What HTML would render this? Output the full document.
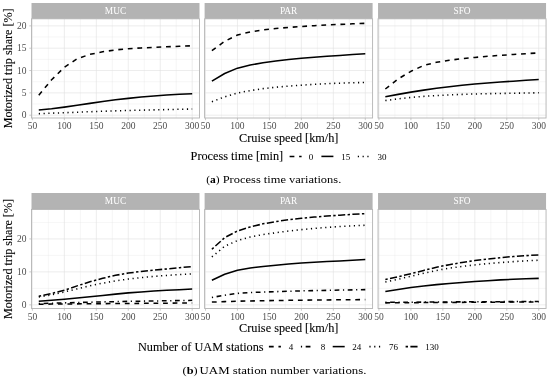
<!DOCTYPE html>
<html lang="en"><head><meta charset="utf-8"><title>Figure</title>
<style>html,body{margin:0;padding:0;background:#fff;}body{width:550px;height:379px;overflow:hidden;}svg text{font-family:"Liberation Serif",serif;}</style>
</head><body>
<svg width="550" height="379" viewBox="0 0 550 379" style="display:block">
<rect width="550" height="379" fill="#fff"/>
<rect x="31.50" y="3.00" width="168.00" height="15.80" fill="#b3b3b3"/>
<text x="115.50" y="14.40" font-size="9.4" fill="#fff" text-anchor="middle">MUC</text>
<path d="M31.50 104.03H199.50M31.50 81.70H199.50M31.50 59.36H199.50M31.50 37.03H199.50M48.38 18.80V118.00M80.34 18.80V118.00M112.30 18.80V118.00M144.26 18.80V118.00M176.22 18.80V118.00" stroke="#e2e2e2" stroke-width="0.3" fill="none"/>
<path d="M31.50 115.20H199.50M31.50 92.87H199.50M31.50 70.53H199.50M31.50 48.20H199.50M31.50 25.86H199.50M32.40 18.80V118.00M64.36 18.80V118.00M96.32 18.80V118.00M128.28 18.80V118.00M160.24 18.80V118.00M192.20 18.80V118.00" stroke="#e0e0e0" stroke-width="0.6" fill="none"/>
<polyline points="38.79,95.22 51.58,79.81 64.36,67.26 77.14,58.75 89.93,54.37 102.71,51.78 115.50,49.91 128.28,48.67 141.06,47.93 153.85,47.38 166.63,46.82 179.42,46.27 192.20,45.76" fill="none" stroke="#000" stroke-width="1.55" stroke-linejoin="round" stroke-dasharray="4.78 4.78"/>
<polyline points="38.79,109.96 51.58,108.70 64.36,107.14 77.14,105.34 89.93,103.38 102.71,101.54 115.50,99.85 128.28,98.36 141.06,97.07 153.85,95.96 166.63,95.06 179.42,94.30 192.20,93.70" fill="none" stroke="#000" stroke-width="1.55" stroke-linejoin="round"/>
<polyline points="38.79,113.68 51.58,113.18 64.36,112.74 77.14,112.20 89.93,111.71 102.71,111.27 115.50,110.86 128.28,110.50 141.06,110.18 153.85,109.88 166.63,109.59 179.42,109.30 192.20,109.02" fill="none" stroke="#000" stroke-width="1.55" stroke-linejoin="round" stroke-dasharray="1.195 3.585"/>
<rect x="31.50" y="18.80" width="168.00" height="99.20" fill="none" stroke="#b3b3b3" stroke-width="0.9"/>
<path d="M32.40 118.00v2.2M64.36 118.00v2.2M96.32 118.00v2.2M128.28 118.00v2.2M160.24 118.00v2.2M192.20 118.00v2.2M31.50 115.20h-2.2M31.50 92.87h-2.2M31.50 70.53h-2.2M31.50 48.20h-2.2M31.50 25.86h-2.2" stroke="#b3b3b3" stroke-width="0.7" fill="none"/>
<text x="32.40" y="129.00" font-size="9.5" fill="#4d4d4d" text-anchor="middle">50</text>
<text x="64.36" y="129.00" font-size="9.5" fill="#4d4d4d" text-anchor="middle">100</text>
<text x="96.32" y="129.00" font-size="9.5" fill="#4d4d4d" text-anchor="middle">150</text>
<text x="128.28" y="129.00" font-size="9.5" fill="#4d4d4d" text-anchor="middle">200</text>
<text x="160.24" y="129.00" font-size="9.5" fill="#4d4d4d" text-anchor="middle">250</text>
<text x="192.20" y="129.00" font-size="9.5" fill="#4d4d4d" text-anchor="middle">300</text>
<text x="26.60" y="118.40" font-size="9.5" fill="#4d4d4d" text-anchor="end">0</text>
<text x="26.60" y="96.07" font-size="9.5" fill="#4d4d4d" text-anchor="end">5</text>
<text x="26.60" y="73.73" font-size="9.5" fill="#4d4d4d" text-anchor="end">10</text>
<text x="26.60" y="51.40" font-size="9.5" fill="#4d4d4d" text-anchor="end">15</text>
<text x="26.60" y="29.06" font-size="9.5" fill="#4d4d4d" text-anchor="end">20</text>
<rect x="204.60" y="3.00" width="168.00" height="15.80" fill="#b3b3b3"/>
<text x="288.60" y="14.40" font-size="9.4" fill="#fff" text-anchor="middle">PAR</text>
<path d="M204.60 104.03H372.60M204.60 81.70H372.60M204.60 59.36H372.60M204.60 37.03H372.60M221.48 18.80V118.00M253.44 18.80V118.00M285.40 18.80V118.00M317.36 18.80V118.00M349.32 18.80V118.00" stroke="#e2e2e2" stroke-width="0.3" fill="none"/>
<path d="M204.60 115.20H372.60M204.60 92.87H372.60M204.60 70.53H372.60M204.60 48.20H372.60M204.60 25.86H372.60M205.50 18.80V118.00M237.46 18.80V118.00M269.42 18.80V118.00M301.38 18.80V118.00M333.34 18.80V118.00M365.30 18.80V118.00" stroke="#e0e0e0" stroke-width="0.6" fill="none"/>
<polyline points="211.89,50.69 224.68,41.28 237.46,35.01 250.24,31.87 263.03,29.93 275.81,28.53 288.60,27.42 301.38,26.50 314.16,25.70 326.95,25.02 339.73,24.40 352.52,23.85 365.30,23.36" fill="none" stroke="#000" stroke-width="1.55" stroke-linejoin="round" stroke-dasharray="4.78 4.78"/>
<polyline points="211.89,81.15 224.68,73.54 237.46,68.16 250.24,65.02 263.03,62.80 275.81,61.06 288.60,59.57 301.38,58.30 314.16,57.23 326.95,56.29 339.73,55.40 352.52,54.58 365.30,53.82" fill="none" stroke="#000" stroke-width="1.55" stroke-linejoin="round"/>
<polyline points="211.89,101.76 224.68,96.83 237.46,93.02 250.24,90.56 263.03,88.64 275.81,87.22 288.60,86.11 301.38,85.18 314.16,84.36 326.95,83.66 339.73,83.16 352.52,82.76 365.30,82.50" fill="none" stroke="#000" stroke-width="1.55" stroke-linejoin="round" stroke-dasharray="1.195 3.585"/>
<rect x="204.60" y="18.80" width="168.00" height="99.20" fill="none" stroke="#b3b3b3" stroke-width="0.9"/>
<path d="M205.50 118.00v2.2M237.46 118.00v2.2M269.42 118.00v2.2M301.38 118.00v2.2M333.34 118.00v2.2M365.30 118.00v2.2" stroke="#b3b3b3" stroke-width="0.7" fill="none"/>
<text x="205.50" y="129.00" font-size="9.5" fill="#4d4d4d" text-anchor="middle">50</text>
<text x="237.46" y="129.00" font-size="9.5" fill="#4d4d4d" text-anchor="middle">100</text>
<text x="269.42" y="129.00" font-size="9.5" fill="#4d4d4d" text-anchor="middle">150</text>
<text x="301.38" y="129.00" font-size="9.5" fill="#4d4d4d" text-anchor="middle">200</text>
<text x="333.34" y="129.00" font-size="9.5" fill="#4d4d4d" text-anchor="middle">250</text>
<text x="365.30" y="129.00" font-size="9.5" fill="#4d4d4d" text-anchor="middle">300</text>
<rect x="378.05" y="3.00" width="168.00" height="15.80" fill="#b3b3b3"/>
<text x="462.05" y="14.40" font-size="9.4" fill="#fff" text-anchor="middle">SFO</text>
<path d="M378.05 104.03H546.05M378.05 81.70H546.05M378.05 59.36H546.05M378.05 37.03H546.05M394.93 18.80V118.00M426.89 18.80V118.00M458.85 18.80V118.00M490.81 18.80V118.00M522.77 18.80V118.00" stroke="#e2e2e2" stroke-width="0.3" fill="none"/>
<path d="M378.05 115.20H546.05M378.05 92.87H546.05M378.05 70.53H546.05M378.05 48.20H546.05M378.05 25.86H546.05M378.95 18.80V118.00M410.91 18.80V118.00M442.87 18.80V118.00M474.83 18.80V118.00M506.79 18.80V118.00M538.75 18.80V118.00" stroke="#e0e0e0" stroke-width="0.6" fill="none"/>
<polyline points="385.34,88.99 398.13,78.91 410.91,71.30 423.69,65.47 436.48,62.34 449.26,60.27 462.05,58.70 474.83,57.41 487.61,56.30 500.40,55.35 513.18,54.47 525.97,53.66 538.75,52.93" fill="none" stroke="#000" stroke-width="1.55" stroke-linejoin="round" stroke-dasharray="4.78 4.78"/>
<polyline points="385.34,96.83 398.13,94.37 410.91,92.13 423.69,90.11 436.48,88.26 449.26,86.65 462.05,85.22 474.83,83.97 487.61,82.94 500.40,82.04 513.18,81.17 525.97,80.35 538.75,79.58" fill="none" stroke="#000" stroke-width="1.55" stroke-linejoin="round"/>
<polyline points="385.34,100.55 398.13,98.85 410.91,97.41 423.69,96.38 436.48,95.56 449.26,94.92 462.05,94.38 474.83,93.96 487.61,93.68 500.40,93.45 513.18,93.22 525.97,93.00 538.75,92.80" fill="none" stroke="#000" stroke-width="1.55" stroke-linejoin="round" stroke-dasharray="1.195 3.585"/>
<rect x="378.05" y="18.80" width="168.00" height="99.20" fill="none" stroke="#b3b3b3" stroke-width="0.9"/>
<path d="M378.95 118.00v2.2M410.91 118.00v2.2M442.87 118.00v2.2M474.83 118.00v2.2M506.79 118.00v2.2M538.75 118.00v2.2" stroke="#b3b3b3" stroke-width="0.7" fill="none"/>
<text x="378.95" y="129.00" font-size="9.5" fill="#4d4d4d" text-anchor="middle">50</text>
<text x="410.91" y="129.00" font-size="9.5" fill="#4d4d4d" text-anchor="middle">100</text>
<text x="442.87" y="129.00" font-size="9.5" fill="#4d4d4d" text-anchor="middle">150</text>
<text x="474.83" y="129.00" font-size="9.5" fill="#4d4d4d" text-anchor="middle">200</text>
<text x="506.79" y="129.00" font-size="9.5" fill="#4d4d4d" text-anchor="middle">250</text>
<text x="538.75" y="129.00" font-size="9.5" fill="#4d4d4d" text-anchor="middle">300</text>
<text x="288.77" y="141.60" font-size="12.25" fill="#000" stroke="#000" stroke-width="0.1" text-anchor="middle">Cruise speed [km/h]</text>
<text transform="translate(12.4 68.40) rotate(-90)" font-size="12.1" fill="#000" stroke="#000" stroke-width="0.1" text-anchor="middle">Motorized trip share [%]</text>
<rect x="31.50" y="193.00" width="168.00" height="16.40" fill="#b3b3b3"/>
<text x="115.50" y="204.40" font-size="9.4" fill="#fff" text-anchor="middle">MUC</text>
<path d="M31.50 288.37H199.50M31.50 255.40H199.50M31.50 222.43H199.50M48.38 209.40V308.50M80.34 209.40V308.50M112.30 209.40V308.50M144.26 209.40V308.50M176.22 209.40V308.50" stroke="#e2e2e2" stroke-width="0.3" fill="none"/>
<path d="M31.50 304.85H199.50M31.50 271.88H199.50M31.50 238.91H199.50M32.40 209.40V308.50M64.36 209.40V308.50M96.32 209.40V308.50M128.28 209.40V308.50M160.24 209.40V308.50M192.20 209.40V308.50" stroke="#e0e0e0" stroke-width="0.6" fill="none"/>
<polyline points="38.79,304.20 51.58,304.10 64.36,304.00 77.14,303.87 89.93,303.75 102.71,303.65 115.50,303.56 128.28,303.47 141.06,303.36 153.85,303.25 166.63,303.16 179.42,303.07 192.20,303.00" fill="none" stroke="#000" stroke-width="1.55" stroke-linejoin="round" stroke-dasharray="4.78 4.78"/>
<polyline points="38.79,303.53 51.58,303.20 64.36,302.87 77.14,302.54 89.93,302.20 102.71,301.89 115.50,301.62 128.28,301.37 141.06,301.16 153.85,300.97 166.63,300.77 179.42,300.56 192.20,300.34" fill="none" stroke="#000" stroke-width="1.55" stroke-linejoin="round" stroke-dasharray="1.195 3.585 4.78 3.585"/>
<polyline points="38.79,301.20 51.58,300.27 64.36,299.21 77.14,298.04 89.93,296.83 102.71,295.54 115.50,294.12 128.28,292.88 141.06,291.92 153.85,291.10 166.63,290.35 179.42,289.66 192.20,289.05" fill="none" stroke="#000" stroke-width="1.55" stroke-linejoin="round"/>
<polyline points="38.79,297.04 51.58,294.88 64.36,291.98 77.14,288.88 89.93,285.80 102.71,283.18 115.50,280.91 128.28,279.06 141.06,277.61 153.85,276.41 166.63,275.42 179.42,274.57 192.20,273.90" fill="none" stroke="#000" stroke-width="1.55" stroke-linejoin="round" stroke-dasharray="1.195 3.585"/>
<polyline points="38.79,296.21 51.58,293.54 64.36,290.21 77.14,285.89 89.93,281.72 102.71,278.28 115.50,275.34 128.28,273.07 141.06,271.48 153.85,270.20 166.63,268.93 179.42,267.71 192.20,266.57" fill="none" stroke="#000" stroke-width="1.55" stroke-linejoin="round" stroke-dasharray="2.39 2.39 7.17 2.39"/>
<rect x="31.50" y="209.40" width="168.00" height="99.10" fill="none" stroke="#b3b3b3" stroke-width="0.9"/>
<path d="M32.40 308.50v2.2M64.36 308.50v2.2M96.32 308.50v2.2M128.28 308.50v2.2M160.24 308.50v2.2M192.20 308.50v2.2M31.50 304.85h-2.2M31.50 271.88h-2.2M31.50 238.91h-2.2" stroke="#b3b3b3" stroke-width="0.7" fill="none"/>
<text x="32.40" y="319.60" font-size="9.5" fill="#4d4d4d" text-anchor="middle">50</text>
<text x="64.36" y="319.60" font-size="9.5" fill="#4d4d4d" text-anchor="middle">100</text>
<text x="96.32" y="319.60" font-size="9.5" fill="#4d4d4d" text-anchor="middle">150</text>
<text x="128.28" y="319.60" font-size="9.5" fill="#4d4d4d" text-anchor="middle">200</text>
<text x="160.24" y="319.60" font-size="9.5" fill="#4d4d4d" text-anchor="middle">250</text>
<text x="192.20" y="319.60" font-size="9.5" fill="#4d4d4d" text-anchor="middle">300</text>
<text x="26.60" y="308.05" font-size="9.5" fill="#4d4d4d" text-anchor="end">0</text>
<text x="26.60" y="275.08" font-size="9.5" fill="#4d4d4d" text-anchor="end">10</text>
<text x="26.60" y="242.11" font-size="9.5" fill="#4d4d4d" text-anchor="end">20</text>
<rect x="204.60" y="193.00" width="168.00" height="16.40" fill="#b3b3b3"/>
<text x="288.60" y="204.40" font-size="9.4" fill="#fff" text-anchor="middle">PAR</text>
<path d="M204.60 288.37H372.60M204.60 255.40H372.60M204.60 222.43H372.60M221.48 209.40V308.50M253.44 209.40V308.50M285.40 209.40V308.50M317.36 209.40V308.50M349.32 209.40V308.50" stroke="#e2e2e2" stroke-width="0.3" fill="none"/>
<path d="M204.60 304.85H372.60M204.60 271.88H372.60M204.60 238.91H372.60M205.50 209.40V308.50M237.46 209.40V308.50M269.42 209.40V308.50M301.38 209.40V308.50M333.34 209.40V308.50M365.30 209.40V308.50" stroke="#e0e0e0" stroke-width="0.6" fill="none"/>
<polyline points="211.89,302.10 224.68,301.64 237.46,301.20 250.24,300.94 263.03,300.71 275.81,300.51 288.60,300.35 301.38,300.20 314.16,300.06 326.95,299.93 339.73,299.81 352.52,299.70 365.30,299.61" fill="none" stroke="#000" stroke-width="1.55" stroke-linejoin="round" stroke-dasharray="4.78 4.78"/>
<polyline points="211.89,297.44 224.68,295.21 237.46,293.38 250.24,292.55 263.03,292.08 275.81,291.67 288.60,291.25 301.38,290.88 314.16,290.59 326.95,290.34 339.73,290.09 352.52,289.85 365.30,289.62" fill="none" stroke="#000" stroke-width="1.55" stroke-linejoin="round" stroke-dasharray="1.195 3.585 4.78 3.585"/>
<polyline points="211.89,280.22 224.68,274.23 237.46,270.24 250.24,267.90 263.03,266.51 275.81,265.28 288.60,264.07 301.38,263.04 314.16,262.26 326.95,261.58 339.73,260.90 352.52,260.23 365.30,259.58" fill="none" stroke="#000" stroke-width="1.55" stroke-linejoin="round"/>
<polyline points="211.89,256.91 224.68,246.26 237.46,240.60 250.24,236.94 263.03,234.57 275.81,232.69 288.60,231.02 301.38,229.61 314.16,228.41 326.95,227.38 339.73,226.55 352.52,225.84 365.30,225.28" fill="none" stroke="#000" stroke-width="1.55" stroke-linejoin="round" stroke-dasharray="1.195 3.585"/>
<polyline points="211.89,249.26 224.68,237.60 237.46,230.94 250.24,226.94 263.03,223.85 275.81,221.56 288.60,219.76 301.38,218.29 314.16,217.09 326.95,216.09 339.73,215.18 352.52,214.35 365.30,213.62" fill="none" stroke="#000" stroke-width="1.55" stroke-linejoin="round" stroke-dasharray="2.39 2.39 7.17 2.39"/>
<rect x="204.60" y="209.40" width="168.00" height="99.10" fill="none" stroke="#b3b3b3" stroke-width="0.9"/>
<path d="M205.50 308.50v2.2M237.46 308.50v2.2M269.42 308.50v2.2M301.38 308.50v2.2M333.34 308.50v2.2M365.30 308.50v2.2" stroke="#b3b3b3" stroke-width="0.7" fill="none"/>
<text x="205.50" y="319.60" font-size="9.5" fill="#4d4d4d" text-anchor="middle">50</text>
<text x="237.46" y="319.60" font-size="9.5" fill="#4d4d4d" text-anchor="middle">100</text>
<text x="269.42" y="319.60" font-size="9.5" fill="#4d4d4d" text-anchor="middle">150</text>
<text x="301.38" y="319.60" font-size="9.5" fill="#4d4d4d" text-anchor="middle">200</text>
<text x="333.34" y="319.60" font-size="9.5" fill="#4d4d4d" text-anchor="middle">250</text>
<text x="365.30" y="319.60" font-size="9.5" fill="#4d4d4d" text-anchor="middle">300</text>
<rect x="378.05" y="193.00" width="168.00" height="16.40" fill="#b3b3b3"/>
<text x="462.05" y="204.40" font-size="9.4" fill="#fff" text-anchor="middle">SFO</text>
<path d="M378.05 288.37H546.05M378.05 255.40H546.05M378.05 222.43H546.05M394.93 209.40V308.50M426.89 209.40V308.50M458.85 209.40V308.50M490.81 209.40V308.50M522.77 209.40V308.50" stroke="#e2e2e2" stroke-width="0.3" fill="none"/>
<path d="M378.05 304.85H546.05M378.05 271.88H546.05M378.05 238.91H546.05M378.95 209.40V308.50M410.91 209.40V308.50M442.87 209.40V308.50M474.83 209.40V308.50M506.79 209.40V308.50M538.75 209.40V308.50" stroke="#e0e0e0" stroke-width="0.6" fill="none"/>
<polyline points="385.34,302.87 398.13,302.80 410.91,302.70 423.69,302.60 436.48,302.51 449.26,302.43 462.05,302.35 474.83,302.27 487.61,302.20 500.40,302.13 513.18,302.07 525.97,302.02 538.75,301.97" fill="none" stroke="#000" stroke-width="1.55" stroke-linejoin="round" stroke-dasharray="4.78 4.78"/>
<polyline points="385.34,302.37 398.13,302.27 410.91,302.20 423.69,302.10 436.48,302.01 449.26,301.93 462.05,301.87 474.83,301.80 487.61,301.73 500.40,301.66 513.18,301.61 525.97,301.57 538.75,301.54" fill="none" stroke="#000" stroke-width="1.55" stroke-linejoin="round" stroke-dasharray="1.195 3.585 4.78 3.585"/>
<polyline points="385.34,291.55 398.13,289.55 410.91,287.55 423.69,286.05 436.48,284.62 449.26,283.44 462.05,282.45 474.83,281.56 487.61,280.68 500.40,279.89 513.18,279.27 525.97,278.75 538.75,278.36" fill="none" stroke="#000" stroke-width="1.55" stroke-linejoin="round"/>
<polyline points="385.34,282.09 398.13,279.23 410.91,276.23 423.69,273.23 436.48,270.43 449.26,268.21 462.05,266.41 474.83,264.91 487.61,263.63 500.40,262.55 513.18,261.64 525.97,260.87 538.75,260.25" fill="none" stroke="#000" stroke-width="1.55" stroke-linejoin="round" stroke-dasharray="1.195 3.585"/>
<polyline points="385.34,279.56 398.13,276.73 410.91,273.66 423.69,270.40 436.48,267.28 449.26,264.68 462.05,262.46 474.83,260.58 487.61,259.00 500.40,257.65 513.18,256.56 525.97,255.64 538.75,254.92" fill="none" stroke="#000" stroke-width="1.55" stroke-linejoin="round" stroke-dasharray="2.39 2.39 7.17 2.39"/>
<rect x="378.05" y="209.40" width="168.00" height="99.10" fill="none" stroke="#b3b3b3" stroke-width="0.9"/>
<path d="M378.95 308.50v2.2M410.91 308.50v2.2M442.87 308.50v2.2M474.83 308.50v2.2M506.79 308.50v2.2M538.75 308.50v2.2" stroke="#b3b3b3" stroke-width="0.7" fill="none"/>
<text x="378.95" y="319.60" font-size="9.5" fill="#4d4d4d" text-anchor="middle">50</text>
<text x="410.91" y="319.60" font-size="9.5" fill="#4d4d4d" text-anchor="middle">100</text>
<text x="442.87" y="319.60" font-size="9.5" fill="#4d4d4d" text-anchor="middle">150</text>
<text x="474.83" y="319.60" font-size="9.5" fill="#4d4d4d" text-anchor="middle">200</text>
<text x="506.79" y="319.60" font-size="9.5" fill="#4d4d4d" text-anchor="middle">250</text>
<text x="538.75" y="319.60" font-size="9.5" fill="#4d4d4d" text-anchor="middle">300</text>
<text x="288.77" y="332.40" font-size="12.25" fill="#000" stroke="#000" stroke-width="0.1" text-anchor="middle">Cruise speed [km/h]</text>
<text transform="translate(12.4 258.95) rotate(-90)" font-size="12.1" fill="#000" stroke="#000" stroke-width="0.1" text-anchor="middle">Motorized trip share [%]</text>
<text x="190.60" y="160.40" font-size="12.25" fill="#000" stroke="#000" stroke-width="0.1">Process time [min]</text>
<path d="M289.60 156.40h12" fill="none" stroke="#000" stroke-width="1.55" stroke-dasharray="4.78 4.78"/>
<text x="308.80" y="159.70" font-size="9.0" fill="#000">0</text>
<path d="M321.40 156.40h12" fill="none" stroke="#000" stroke-width="1.55"/>
<text x="341.20" y="159.70" font-size="9.0" fill="#000">15</text>
<path d="M357.80 156.40h12" fill="none" stroke="#000" stroke-width="1.55" stroke-dasharray="1.195 3.585"/>
<text x="377.60" y="159.70" font-size="9.0" fill="#000">30</text>
<text x="138.00" y="350.60" font-size="12.25" fill="#000" stroke="#000" stroke-width="0.1">Number of UAM stations</text>
<path d="M268.90 346.60h12" fill="none" stroke="#000" stroke-width="1.55" stroke-dasharray="4.78 4.78"/>
<text x="288.80" y="349.90" font-size="9.0" fill="#000">4</text>
<path d="M300.90 346.60h12" fill="none" stroke="#000" stroke-width="1.55" stroke-dasharray="1.195 3.585 4.78 3.585"/>
<text x="320.70" y="349.90" font-size="9.0" fill="#000">8</text>
<path d="M332.70 346.60h12" fill="none" stroke="#000" stroke-width="1.55"/>
<text x="352.30" y="349.90" font-size="9.0" fill="#000">24</text>
<path d="M369.40 346.60h12" fill="none" stroke="#000" stroke-width="1.55" stroke-dasharray="1.195 3.585"/>
<text x="389.10" y="349.90" font-size="9.0" fill="#000">76</text>
<path d="M405.60 346.60h12" fill="none" stroke="#000" stroke-width="1.55" stroke-dasharray="2.39 2.39 7.17 2.39"/>
<text x="425.30" y="349.90" font-size="9.0" fill="#000">130</text>
<text x="206.20" y="183.00" font-size="11.3" fill="#000" textLength="13.40" lengthAdjust="spacingAndGlyphs">(<tspan font-weight="bold">a</tspan>)</text>
<text x="222.70" y="183.00" font-size="11.3" fill="#000" textLength="118.60" lengthAdjust="spacingAndGlyphs">Process time variations.</text>
<text x="182.60" y="373.90" font-size="11.3" fill="#000" textLength="15.00" lengthAdjust="spacingAndGlyphs">(<tspan font-weight="bold">b</tspan>)</text>
<text x="199.60" y="373.90" font-size="11.3" fill="#000" textLength="166.90" lengthAdjust="spacingAndGlyphs">UAM station number variations.</text>
</svg>
</body></html>
